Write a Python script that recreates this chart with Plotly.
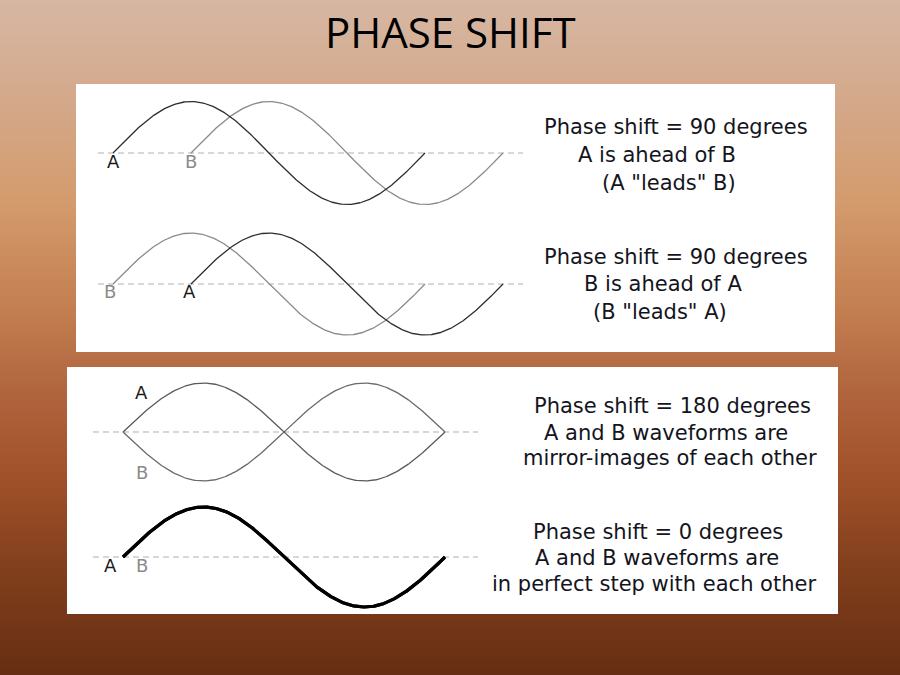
import numpy as np
import plotly.graph_objects as go

# ---------------- data ----------------
title_text = "PHASE SHIFT"
phase_shift_deg = [90, 90, 180, 0]          # shift between A and B per strip
start_A_deg = [0, 90, 0, 0]                  # where waveform A starts
start_B_deg = [90, 0, 0, 0]                  # where waveform B starts
sign_B = [1, 1, -1, 1]                       # B inverted for 180 degrees
cycle_deg = 360                              # one full cycle drawn per wave
desc_lines = [
    ["Phase shift = 90 degrees", "A is ahead of B", '(A "leads" B)'],
    ["Phase shift = 90 degrees", "B is ahead of A", '(B "leads" A)'],
    ["Phase shift = 180 degrees", "A and B waveforms are", "mirror-images of each other"],
    ["Phase shift = 0 degrees", "A and B waveforms are", "in perfect step with each other"],
]

# ---------------- page geometry (pixels) ----------------
W, H = 900, 675
def px(x): return x / W
def py(y): return 1 - y / H

# per strip: origin x (0 deg), px per degree, baseline y, amplitude px, dashed line px extent
strips = [
    dict(x0=113, ppd=312 / 360, base=153, amp=51.5, dash=(98, 523)),
    dict(x0=113, ppd=312 / 360, base=284, amp=51.0, dash=(98, 523)),
    dict(x0=123, ppd=322 / 360, base=432, amp=49.0, dash=(93, 478)),
    dict(x0=123, ppd=322 / 360, base=557, amp=50.0, dash=(93, 478)),
]
wave_style = [
    dict(A=dict(color="#2e2e2e", width=1.3), B=dict(color="#8a8a8a", width=1.3)),
    dict(A=dict(color="#2e2e2e", width=1.3), B=dict(color="#8a8a8a", width=1.3)),
    dict(A=dict(color="#5a5a5a", width=1.3), B=dict(color="#6a6a6a", width=1.3)),
    dict(A=dict(color="#000000", width=3.2), B=dict(color="#000000", width=3.2)),
]
# label positions (deg, amplitude units, yshift px)
labels = [
    [("A", 0, 0, -8, "#1a1a1a"), ("B", 90, 0, -8, "#8a8a8a")],
    [("B", -3, 0, -8, "#8a8a8a"), ("A", 88, 0, -8, "#1a1a1a")],
    [("A", 21, 0.8, 0, "#1a1a1a"), ("B", 21, -0.82, 0, "#8a8a8a")],
    [("A", -14, 0, -8, "#1a1a1a"), ("B", 21, 0, -8, "#8a8a8a")],
]
desc_pos = [
    [(676, 127), (657, 155), (669, 183)],
    [(676, 257), (663, 284), (660, 312)],
    [(672, 406), (666, 433), (670, 458)],
    [(658, 532), (657, 558), (654, 584)],
]

fig = go.Figure()
layout_axes = {}
annotations = []
X_LEFT, X_RIGHT = 80, 540

for i, s in enumerate(strips):
    n = i + 1
    xa = "x" if n == 1 else f"x{n}"
    ya = "y" if n == 1 else f"y{n}"
    half = 1.3 * s["amp"]
    xr = [(X_LEFT - s["x0"]) / s["ppd"], (X_RIGHT - s["x0"]) / s["ppd"]]
    layout_axes["xaxis" if n == 1 else f"xaxis{n}"] = dict(
        domain=[px(X_LEFT), px(X_RIGHT)], range=xr, visible=False, anchor=ya, fixedrange=True)
    layout_axes["yaxis" if n == 1 else f"yaxis{n}"] = dict(
        domain=[py(s["base"] + half), py(s["base"] - half)], range=[-1.3, 1.3],
        visible=False, anchor=xa, fixedrange=True)

    # dashed baseline
    d0 = (s["dash"][0] - s["x0"]) / s["ppd"]
    d1 = (s["dash"][1] - s["x0"]) / s["ppd"]
    fig.add_trace(go.Scatter(x=[d0, d1], y=[0, 0], mode="lines", xaxis=xa, yaxis=ya,
                             line=dict(color="#b0b0b0", width=1, dash="6px,4px"),
                             hoverinfo="skip", showlegend=False))

    # waves
    for w in ["B", "A"]:
        start = start_A_deg[i] if w == "A" else start_B_deg[i]
        sg = 1 if w == "A" else sign_B[i]
        deg = np.linspace(start, start + cycle_deg, 361)
        yv = sg * np.sin(np.deg2rad(deg - start))
        fig.add_trace(go.Scatter(x=deg, y=yv, mode="lines", xaxis=xa, yaxis=ya,
                                 line=dict(color=wave_style[i][w]["color"],
                                           width=wave_style[i][w]["width"]),
                                 hoverinfo="skip", showlegend=False, name=w))

    for (t, dx, dy, ys, col) in labels[i]:
        annotations.append(dict(text=t, x=dx, y=dy, xref=xa, yref=ya, yshift=ys,
                                showarrow=False, xanchor="center", yanchor="middle",
                                font=dict(family="DejaVu Sans", size=18, color=col)))

    for line, (cx, cy) in zip(desc_lines[i], desc_pos[i]):
        annotations.append(dict(text=line, x=px(cx), y=py(cy), xref="paper", yref="paper",
                                showarrow=False, xanchor="center", yanchor="middle",
                                font=dict(family="DejaVu Sans", size=21, color="#14141c")))

annotations.append(dict(text=title_text, x=0.5, y=py(31), xref="paper", yref="paper",
                        showarrow=False, xanchor="center", yanchor="middle",
                        font=dict(family="Open Sans", size=42, color="#000000")))

# ---------------- background gradient + white panels ----------------
stops = [(0.00, (214, 183, 163)), (0.15, (212, 168, 138)), (0.30, (212, 155, 108)),
         (0.45, (196, 128, 82)), (0.60, (174, 97, 58)), (0.70, (162, 82, 42)),
         (0.85, (128, 62, 28)), (1.00, (102, 46, 18))]
def grad(t):
    for (t0, c0), (t1, c1) in zip(stops[:-1], stops[1:]):
        if t0 <= t <= t1:
            f = (t - t0) / (t1 - t0)
            return tuple(int(round(a + (b - a) * f)) for a, b in zip(c0, c1))
    return stops[-1][1]

shapes = []
step = 3
for y in range(0, H, step):
    c = grad((y + step / 2) / H)
    shapes.append(dict(type="rect", xref="paper", yref="paper", x0=0, x1=1,
                       y0=py(y + step + 0.5), y1=py(y), layer="below",
                       line=dict(width=0), fillcolor=f"rgb{c}"))
for (l, t, r, b) in [(76, 84, 835, 352), (67, 367, 838, 614)]:
    shapes.append(dict(type="rect", xref="paper", yref="paper", x0=px(l), x1=px(r),
                       y0=py(b), y1=py(t), layer="below", line=dict(width=0),
                       fillcolor="#ffffff"))

fig.update_layout(
    width=W, height=H, autosize=False,
    margin=dict(l=0, r=0, t=0, b=0, pad=0),
    paper_bgcolor="rgb(160,100,60)", plot_bgcolor="rgba(0,0,0,0)",
    showlegend=False, shapes=shapes, annotations=annotations,
    **layout_axes,
)

fig.write_html("out.html", config={"displayModeBar": False},
               post_script="document.body.style.margin='0';document.body.style.overflow='hidden';")
